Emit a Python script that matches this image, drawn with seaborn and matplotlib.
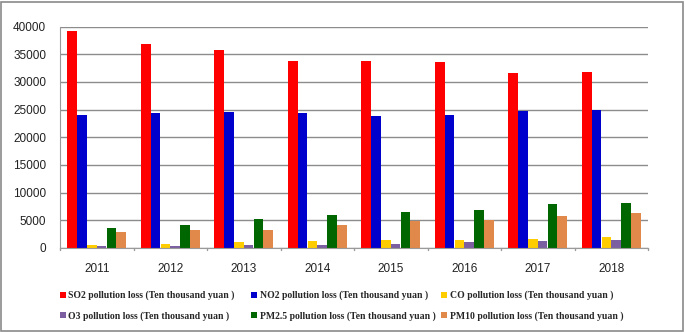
import matplotlib
matplotlib.use("Agg")
from matplotlib import pyplot as plt
from matplotlib.patches import Rectangle
import pandas as pd
import seaborn as sns

years = ["2011", "2012", "2013", "2014", "2015", "2016", "2017", "2018"]
so2 = [39200, 36900, 35800, 33800, 33800, 33600, 31600, 31800]
no2 = [24000, 24400, 24600, 24400, 23800, 24100, 24700, 24900]
co = [600, 800, 1000, 1200, 1400, 1500, 1700, 2000]
o3 = [350, 450, 600, 600, 800, 1000, 1250, 1400]
pm25 = [3700, 4200, 5300, 5900, 6500, 6900, 7900, 8200]
pm10 = [2850, 3200, 3300, 4100, 4800, 5000, 5700, 6400]

series_names = [
    "SO2 pollution loss (Ten thousand yuan )",
    "NO2 pollution loss (Ten thousand yuan )",
    "CO pollution loss (Ten thousand yuan )",
    "O3 pollution loss (Ten thousand yuan )",
    "PM2.5 pollution loss (Ten thousand yuan )",
    "PM10 pollution loss (Ten thousand yuan )",
]
colors = ["#ff0000", "#0000cc", "#ffcc00", "#7b5fa0", "#006600", "#e0894a"]

df = pd.DataFrame({"Year": years})
for name, vals in zip(series_names, [so2, no2, co, o3, pm25, pm10]):
    df[name] = vals
melted = df.melt(id_vars="Year", var_name="Series", value_name="Value")

sns.set_style("white")
plt.rcParams["font.family"] = ["Liberation Sans", "DejaVu Sans"]

fig = plt.figure(figsize=(6.85, 3.32), dpi=100)
W, H = 685, 332
ax = fig.add_axes([60 / W, 1 - 248 / H, (648 - 60) / W, (248 - 26.5) / H])

sns.barplot(
    data=melted,
    x="Year",
    y="Value",
    hue="Series",
    palette=colors,
    saturation=1,
    width=0.8,
    gap=0.03,
    linewidth=0,
    errorbar=None,
    ax=ax,
    legend=True,
)

ax.set_xlim(-0.5, len(years) - 0.5)
ax.set_ylim(0, 40000)
ax.set_yticks(range(0, 40001, 5000))
ax.set_xlabel("")
ax.set_ylabel("")
ax.yaxis.grid(True, color="#8c8c8c", linewidth=1.0)
ax.set_axisbelow(True)
for side in ["top", "right"]:
    ax.spines[side].set_visible(False)
ax.spines["left"].set_color("#9a9a9a")
ax.spines["bottom"].set_color("#9a9a9a")
ax.tick_params(axis="both", labelsize=8.5, colors="#222222", length=0)
ax.tick_params(axis="y", pad=10)
ax.tick_params(axis="x", pad=11)
# category separators on the x axis
for b in range(len(years) + 1):
    ax.plot([b - 0.5, b - 0.5], [0, -450], color="#9a9a9a", lw=1, clip_on=False)

handles, labels = ax.get_legend_handles_labels()
ax.get_legend().remove()
# three legend columns, two rows each (row-major order as in the original)
col_x = [51, 242, 432]
for c in range(3):
    idx = [c, c + 3]
    fig.legend(
        [handles[i] for i in idx],
        [labels[i] for i in idx],
        ncol=1,
        loc="upper left",
        bbox_to_anchor=(col_x[c] / W, 1 - 282 / H),
        frameon=False,
        prop={"family": "Liberation Serif", "weight": "bold", "size": 7.0},
        handlelength=0.6,
        handleheight=0.6,
        handletextpad=0.3,
        labelspacing=1.1,
        borderpad=0.4,
    )

fig.patches.append(
    Rectangle((1 / W, 1 / H), 682 / W, 329 / H, transform=fig.transFigure,
              fill=False, edgecolor="#8a8a8a", linewidth=1.2)
)

plt.savefig("out.png", dpi=100)
